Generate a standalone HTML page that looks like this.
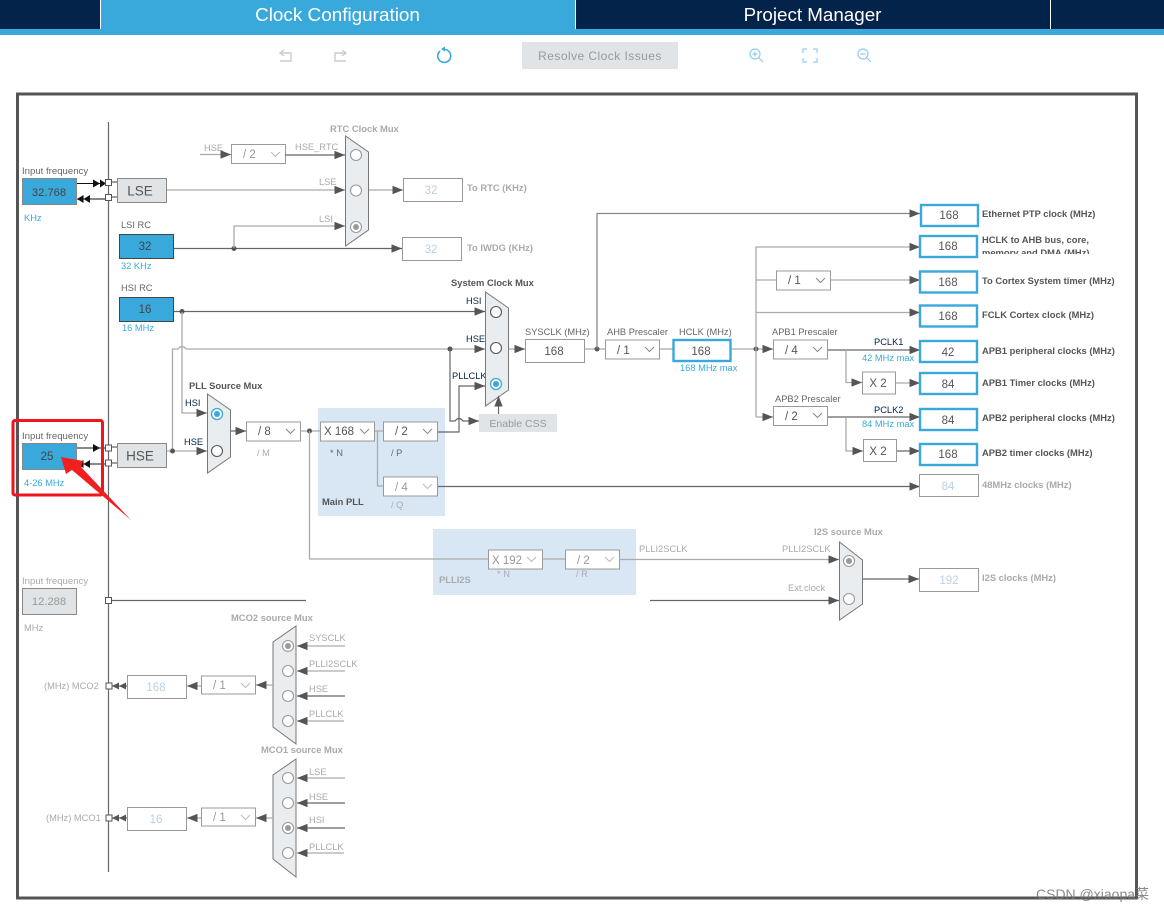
<!DOCTYPE html>
<html><head><meta charset="utf-8"><style>
html,body{margin:0;padding:0;background:#fff;width:1164px;height:912px;overflow:hidden}
svg{display:block}
text{font-family:"Liberation Sans","Noto Sans CJK SC",sans-serif;font-size:9.3px;fill:#666}
.b{font-weight:bold;font-size:9.4px}
.u{fill:#39a9dc}
.n{fill:#03234b}
.m{fill:#aaa}
.v{font-size:11.5px;fill:#555}
.vm{font-size:11.5px;fill:#999}
.c{text-anchor:middle}
.bl{font-size:11.5px;fill:#bccfe4;text-anchor:middle}
.d{stroke:#666;stroke-width:1.2;fill:none}
.g{stroke:#aaa;stroke-width:1.3;fill:none}
.box{fill:#fff;stroke:#999;stroke-width:1}
.out{fill:#fff;stroke:#39a9dc;stroke-width:2.4}
.mux{fill:#e9edf0;stroke:#777;stroke-width:1}
.r{fill:#fff;stroke:#999;stroke-width:1.1}
.rb{fill:#fff;stroke:#39a9dc;stroke-width:1.3}
.chev{fill:none;stroke:#888;stroke-width:1}
.chevm{fill:none;stroke:#bbb;stroke-width:1}
.sq{fill:#fff;stroke:#555;stroke-width:1}
.in{fill:#39a9dc;stroke:#888;stroke-width:1}
.inb{fill:#39a9dc;stroke:#444;stroke-width:1}
.gr{fill:#e1e4e6;stroke:#888;stroke-width:1}
</style></head><body>
<svg width="1164" height="912" viewBox="0 0 1164 912" xmlns="http://www.w3.org/2000/svg">
<defs>
<marker id="a" viewBox="0 0 10 8" refX="10" refY="4" markerWidth="10.5" markerHeight="8.400" markerUnits="userSpaceOnUse" orient="auto"><polygon points="0,0 10,4 0,8" fill="#555"/></marker>
</defs>

<!-- top bar -->
<rect x="0" y="0" width="1164" height="29" fill="#03234b"/>
<rect x="100" y="0" width="475" height="29" fill="#39a9dc"/>
<rect x="0" y="29" width="1164" height="6" fill="#39a9dc"/>
<rect x="100" y="0" width="1" height="29" fill="#fff"/>
<rect x="575" y="0" width="1" height="29" fill="#fff"/>
<rect x="1050" y="0" width="1" height="29" fill="#fff"/>
<text x="337.5" y="21" class="c" style="font-size:18.9px;fill:#fff">Clock Configuration</text>
<text x="812.5" y="21" class="c" style="font-size:18.8px;fill:#fff">Project Manager</text>

<!-- toolbar -->
<g fill="none" stroke="#ccc" stroke-width="1.4">
<path d="M280 53h11v8h-11M284 50l-4 3 4 3"/>
<path d="M346 53h-11v8h11M342 50l4 3-4 3"/>
</g>
<path d="M440 51a6.500 6.500 0 1 0 5 -1.500" fill="none" stroke="#39a9dc" stroke-width="1.6"/>
<path d="M445 46.500v5l-4 -2.500z" fill="#39a9dc"/>
<rect x="522" y="42" width="156" height="27" fill="#e1e4e6"/>
<text x="600" y="60" class="c" style="font-size:12px;fill:#999;letter-spacing:.45px">Resolve Clock Issues</text>
<g fill="none" stroke="#8fcdec" stroke-width="1.2">
<circle cx="755" cy="54" r="5"/><path d="M759 58l4 4M752.500 54h5M755 51.500v5"/>
<path d="M803 53v-4h4M813 49h4v4M817 58v4h-4M807 62h-4v-4"/>
<circle cx="863" cy="54" r="5"/><path d="M867 58l4 4M860.500 54h5"/>
</g>

<!-- frame -->
<rect x="17.500" y="94" width="1119" height="804" fill="#fff" stroke="#555" stroke-width="3"/>

<!-- blue bgs -->
<rect x="318" y="408" width="127" height="108" fill="#d9e7f4"/>
<rect x="433" y="529" width="203" height="66" fill="#d9e7f4"/>

<!-- left bus -->
<path class="d" d="M108.500 122V872"/>

<!-- LSE -->
<text x="22" y="174" style="font-size:9.6px">Input frequency</text>
<rect class="in" x="22.500" y="178.500" width="54" height="26"/>
<text x="49" y="196" class="c" style="font-size:11.2px;fill:#444">32.768</text>
<text x="24" y="221" class="u">KHz</text>
<path d="M77 183.500H105" stroke="#111" stroke-width="1"/>
<path d="M77 199H105" stroke="#111" stroke-width="1"/>
<polygon points="93,179.500 100,183.500 93,187.500" fill="#111"/><polygon points="100,179.500 106,183.500 100,187.500" fill="#111"/>
<polygon points="77,199 83.500,195 83.500,203" fill="#111"/><polygon points="83.500,199 90,195 90,203" fill="#111"/>
<path class="d" d="M111 182H117M111 197H117"/>
<rect class="sq" x="105.500" y="179.500" width="6" height="6"/>
<rect class="sq" x="105.500" y="194.500" width="6" height="6"/>
<rect class="gr" x="117.500" y="178.500" width="49" height="24"/>
<text x="140" y="195.500" class="c" style="font-size:13.5px;fill:#555">LSE</text>

<path class="g" d="M167 190H345" marker-end="url(#a)"/>
<text x="319" y="185" class="m">LSE</text>
<text x="204" y="151" class="m">HSE</text>
<path class="g" d="M200 154.500H231" marker-end="url(#a)"/>
<rect class="box" x="231.500" y="144.500" width="54" height="19"/>
<text x="243" y="158" class="vm">/ 2</text>
<path class="chevm" d="M271 152l4.500 4.500 4.500-4.500"/>
<path class="d" d="M285 155H345" marker-end="url(#a)"/>
<text x="295" y="150" class="m">HSE_RTC</text>
<text x="330" y="132" class="b m">RTC Clock Mux</text>
<polygon class="mux" points="345.500,136 368.500,152 368.500,230 345.500,246"/>
<circle class="r" cx="356" cy="155" r="5.500"/>
<circle class="r" cx="356" cy="190.500" r="5.500"/>
<circle class="r" cx="356" cy="227" r="5.500"/><circle cx="356" cy="227" r="3" fill="#999"/>
<path class="g" d="M369 190H403" marker-end="url(#a)"/>
<rect class="box" x="403.500" y="178.500" width="59" height="23"/>
<text x="431" y="194" class="bl">32</text>
<text x="467" y="191" class="b m">To RTC (KHz)</text>

<!-- LSI -->
<text x="121" y="228">LSI RC</text>
<rect class="inb" x="119.500" y="234.500" width="54" height="24"/>
<text x="145" y="250" class="c" style="font-size:11.5px;fill:#444">32</text>
<text x="121" y="269" class="u">32 KHz</text>
<path class="d" d="M174 248.500H402" marker-end="url(#a)"/>
<circle cx="234" cy="248.500" r="2.500" fill="#555"/>
<path class="g" d="M234 248V226H345" marker-end="url(#a)"/>
<text x="319" y="222" class="m">LSI</text>
<rect class="box" x="402.500" y="237.500" width="59" height="23"/>
<text x="431" y="253" class="bl">32</text>
<text x="467" y="251" class="b m">To IWDG (KHz)</text>

<!-- HSI -->
<text x="121" y="291">HSI RC</text>
<rect class="inb" x="119.500" y="297.500" width="54" height="24"/>
<text x="145" y="313" class="c" style="font-size:11.5px;fill:#444">16</text>
<text x="122" y="331" class="u">16 MHz</text>
<path class="d" d="M174 311.500H485" marker-end="url(#a)"/>
<circle cx="182" cy="311.500" r="2.500" fill="#555"/>
<path class="g" d="M182 312V413H207" marker-end="url(#a)"/>
<path class="g" d="M172.500 451V349H178q4-5 8 0H485" marker-end="url(#a)"/>

<!-- HSE -->
<text x="22" y="439" style="font-size:9.6px">Input frequency</text>
<rect class="in" x="22.500" y="443.500" width="54" height="26"/>
<text x="47" y="460" class="c" style="font-size:11.5px;fill:#444">25</text>
<text x="24" y="486" class="u">4-26 MHz</text>
<path d="M77 448H105M77 464H105" stroke="#111" stroke-width="1"/>
<polygon points="93,444 100,448 93,452" fill="#111"/>
<polygon points="77,464 83.500,460 83.500,468" fill="#111"/><polygon points="83.500,464 90,460 90,468" fill="#111"/>
<path class="d" d="M111 447H117M111 463H117"/>
<rect class="sq" x="105.500" y="445" width="6" height="6"/>
<rect class="sq" x="105.500" y="460" width="6" height="6"/>
<rect class="gr" x="117.500" y="443.500" width="49" height="24"/>
<text x="140" y="460.500" class="c" style="font-size:13.5px;fill:#555">HSE</text>
<path class="g" d="M167 451H207" marker-end="url(#a)"/>
<circle cx="172.500" cy="451" r="2.500" fill="#555"/>

<!-- PLL mux -->
<text x="189" y="389" class="b" style="fill:#555">PLL  Source Mux</text>
<text x="185" y="406" class="n">HSI</text>
<text x="184" y="445" class="n">HSE</text>
<polygon class="mux" points="207.500,394 230.500,410 230.500,457 207.500,473"/>
<circle class="rb" cx="217" cy="414" r="5.500"/><circle cx="217" cy="414" r="3" fill="#39a9dc"/>
<circle class="r" cx="217" cy="451" r="5.500" style="stroke:#555"/>
<path class="d" d="M231 431H246" marker-end="url(#a)"/>
<rect class="box" x="246.500" y="422" width="54" height="19"/>
<text x="258" y="435" class="v">/ 8</text>
<path class="chev" d="M286 429l4.500 4.500 4.500-4.500"/>
<text x="257" y="456" class="m">/ M</text>
<path class="g" d="M300 431H320"/>
<circle cx="309.500" cy="431" r="2.500" fill="#555"/>
<path class="g" d="M309.500 431V559H488"/>

<!-- main PLL -->
<rect class="box" x="320.500" y="422" width="54" height="19"/>
<text x="324" y="435" class="v">X 168</text>
<path class="chev" d="M360 429l4.500 4.500 4.500-4.500"/>
<path class="g" d="M375 431H383M377.500 431V486H383"/>
<rect class="box" x="383.500" y="422" width="54" height="19"/>
<text x="395" y="435" class="v">/ 2</text>
<path class="chev" d="M423 429l4.500 4.500 4.500-4.500"/>
<rect class="box" x="383.500" y="477" width="54" height="19"/>
<text x="395" y="491" class="vm">/ 4</text>
<path class="chevm" d="M423 484l4.500 4.500 4.500-4.500"/>
<text x="330" y="456" style="fill:#666">* N</text>
<text x="391" y="456" style="fill:#666">/ P</text>
<text x="391" y="508" class="m">/ Q</text>
<text x="322" y="505" class="b" style="fill:#555">Main PLL</text>
<path class="d" d="M438 486.500H920" marker-end="url(#a)"/>

<!-- system mux -->
<path class="d" d="M438 432H459V386H485" marker-end="url(#a)"/>
<circle cx="450" cy="349" r="2.500" fill="#555"/>
<path class="d" d="M450 349V421H455q4-5 8 0H479" marker-end="url(#a)"/>
<text x="451" y="286" class="b" style="fill:#555">System Clock Mux</text>
<text x="466" y="304" class="n">HSI</text>
<text x="466" y="342" class="n">HSE</text>
<text x="452" y="379" class="n">PLLCLK</text>
<polygon class="mux" points="485.500,292 508.500,308 508.500,390 485.500,406"/>
<circle class="r" cx="496" cy="312" r="5.500" style="stroke:#555"/>
<circle class="r" cx="496" cy="348" r="5.500" style="stroke:#555"/>
<circle class="rb" cx="496" cy="384" r="5.500"/><circle cx="496" cy="384" r="3" fill="#39a9dc"/>
<path class="d" d="M498.500 414V396" marker-end="url(#a)"/>
<rect x="479" y="414" width="78" height="18" fill="#e1e4e6"/>
<text x="518" y="427" class="c" style="font-size:10.5px;fill:#999">Enable CSS</text>

<path class="g" d="M509 349H525" marker-end="url(#a)"/>
<text x="525" y="335">SYSCLK (MHz)</text>
<rect class="box" x="525.500" y="339.500" width="59" height="23"/>
<text x="554" y="355" class="c v">168</text>
<path class="g" d="M585 349H605"/>
<circle cx="597" cy="349" r="2.500" fill="#555"/>
<path class="g" d="M597 349V213.500H920" style="stroke:#888" marker-end="url(#a)"/>
<text x="607" y="335">AHB Prescaler</text>
<rect class="box" x="605.500" y="340" width="54" height="19"/>
<text x="617" y="354" class="v">/ 1</text>
<path class="chev" d="M645 347l4.500 4.500 4.500-4.500"/>
<path class="g" d="M660 349H673"/>
<text x="679" y="335">HCLK (MHz)</text>
<rect class="out" x="673.500" y="340" width="57" height="21"/>
<text x="701" y="355" class="c v">168</text>
<text x="680" y="371" class="u">168 MHz max</text>
<path class="g" d="M731 349H773" marker-end="url(#a)"/>
<circle cx="756" cy="349" r="2.500" fill="#555"/>
<path class="g" d="M756 417V247H920" marker-end="url(#a)"/>
<path class="g" d="M756 280H776.500"/>
<rect class="box" x="776.500" y="271" width="54" height="19"/>
<text x="788" y="284" class="v">/ 1</text>
<path class="chev" d="M816 278l4.500 4.500 4.500-4.500"/>
<path class="g" d="M831 280H920" marker-end="url(#a)"/>
<path class="g" d="M756 312.500H920" marker-end="url(#a)"/>
<path class="g" d="M756 417H773" marker-end="url(#a)"/>

<text x="772" y="335">APB1 Prescaler</text>
<rect class="box" x="773.500" y="340" width="54" height="19"/>
<text x="785" y="354" class="v">/ 4</text>
<path class="chev" d="M813 347l4.500 4.500 4.500-4.500"/>
<text x="775" y="402">APB2 Prescaler</text>
<rect class="box" x="773.500" y="406.500" width="54" height="19"/>
<text x="785" y="420" class="v">/ 2</text>
<path class="chev" d="M813 413l4.500 4.500 4.500-4.500"/>

<path class="d" d="M828 350H920" marker-end="url(#a)"/>
<text x="874" y="345" class="n">PCLK1</text>
<text x="862" y="361" class="u">42 MHz max</text>
<path class="g" d="M846 350V382.500H862" marker-end="url(#a)"/>
<rect class="box" x="862.500" y="372" width="33" height="22"/>
<text x="878" y="387" class="c v">X 2</text>
<path class="g" d="M896 383H920" marker-end="url(#a)"/>

<path class="d" d="M828 417H920" marker-end="url(#a)"/>
<text x="874" y="413" class="n">PCLK2</text>
<text x="862" y="427" class="u">84 MHz max</text>
<path class="g" d="M846 417V451H863" marker-end="url(#a)"/>
<rect class="box" x="863.500" y="439.500" width="33" height="22"/>
<text x="878" y="455" class="c v">X 2</text>
<path class="d" d="M897 451H920" marker-end="url(#a)"/>

<!-- outputs -->
<rect class="out" x="921" y="205" width="57" height="21"/><text x="949" y="219" class="c v">168</text>
<rect class="out" x="920" y="236" width="57" height="21"/><text x="948" y="250" class="c v">168</text>
<rect class="out" x="920" y="271.500" width="57" height="21"/><text x="948" y="286" class="c v">168</text>
<rect class="out" x="920" y="305.500" width="57" height="21"/><text x="948" y="320" class="c v">168</text>
<rect class="out" x="920" y="341" width="57" height="21"/><text x="948" y="356" class="c v">42</text>
<rect class="out" x="920" y="373" width="57" height="21"/><text x="948" y="388" class="c v">84</text>
<rect class="out" x="920" y="409" width="57" height="21"/><text x="948" y="424" class="c v">84</text>
<rect class="out" x="920" y="444" width="57" height="21"/><text x="948" y="458" class="c v">168</text>
<rect class="box" x="919.500" y="474.500" width="59" height="22"/><text x="948" y="490" class="bl">84</text>

<text x="982" y="217" class="b" style="fill:#555">Ethernet PTP clock (MHz)</text>
<text x="982" y="243" class="b" style="fill:#555">HCLK to AHB bus, core,</text>
<clipPath id="cl"><rect x="975" y="246" width="150" height="8"/></clipPath>
<text x="982" y="256" class="b" style="fill:#555" clip-path="url(#cl)">memory and DMA (MHz)</text>
<text x="982" y="284" class="b" style="fill:#555">To Cortex System timer (MHz)</text>
<text x="982" y="318" class="b" style="fill:#555">FCLK Cortex clock (MHz)</text>
<text x="982" y="354" class="b" style="fill:#555">APB1 peripheral clocks (MHz)</text>
<text x="982" y="386" class="b" style="fill:#555">APB1 Timer clocks (MHz)</text>
<text x="982" y="421" class="b" style="fill:#555">APB2 peripheral clocks (MHz)</text>
<text x="982" y="456" class="b" style="fill:#555">APB2 timer clocks (MHz)</text>
<text x="982" y="488" class="b m">48MHz clocks (MHz)</text>

<!-- I2S -->
<rect class="box" x="488.500" y="550" width="54" height="19"/>
<text x="492" y="564" class="vm">X 192</text>
<path class="chevm" d="M527 557l4.500 4.500 4.500-4.500"/>
<path class="g" d="M542 559H565"/>
<rect class="box" x="565.500" y="550" width="54" height="19"/>
<text x="577" y="564" class="vm">/ 2</text>
<path class="chevm" d="M605 557l4.500 4.500 4.500-4.500"/>
<text x="497" y="577" class="m">* N</text>
<text x="576" y="577" class="m">/ R</text>
<text x="439" y="583" class="b m">PLLI2S</text>
<path class="g" d="M619 559.500H839" marker-end="url(#a)"/>
<text x="639" y="552" class="m">PLLI2SCLK</text>
<text x="782" y="552" class="m">PLLI2SCLK</text>
<text x="788" y="591" class="m">Ext.clock</text>
<path class="d" d="M650 600.500H839" marker-end="url(#a)"/>
<text x="814" y="535" class="b m">I2S source Mux</text>
<polygon class="mux" points="839.500,542 862.500,560 862.500,604 839.500,620"/>
<circle class="r" cx="849" cy="561" r="5.500"/><circle cx="849" cy="561" r="3" fill="#999"/>
<circle class="r" cx="849" cy="599" r="5.500"/>
<path class="d" d="M863 579H919" marker-end="url(#a)"/>
<rect class="box" x="919.500" y="568.500" width="59" height="23"/>
<text x="949" y="584" class="bl">192</text>
<text x="982" y="581" class="b m">I2S clocks (MHz)</text>

<!-- third input -->
<text x="22" y="584" class="m" style="font-size:9.6px">Input frequency</text>
<rect class="gr" x="22.500" y="588.500" width="54" height="26"/>
<text x="49" y="605" class="c" style="font-size:11.2px;fill:#999">12.288</text>
<text x="24" y="631" class="m">MHz</text>
<path class="d" d="M111 600.500H306"/>
<rect class="sq" x="105.500" y="597.500" width="6" height="6"/>

<!-- MCO2 -->
<text x="231" y="621" class="b m">MCO2 source Mux</text>
<polygon class="mux" points="296,626 273,642 273,727 296,744"/>
<circle class="r" cx="288" cy="646" r="5.500"/><circle cx="288" cy="646" r="3" fill="#999"/>
<circle class="r" cx="288" cy="671" r="5.500"/>
<circle class="r" cx="288" cy="696" r="5.500"/>
<circle class="r" cx="288" cy="721" r="5.500"/>
<path class="g" d="M345 646H297" marker-end="url(#a)"/>
<path class="g" d="M345 671H297" marker-end="url(#a)"/>
<path class="d" d="M345 696H297" marker-end="url(#a)"/>
<path class="g" d="M344 721H297" marker-end="url(#a)"/>
<text x="309" y="641" class="m">SYSCLK</text>
<text x="309" y="667" class="m">PLLI2SCLK</text>
<text x="309" y="692" class="m">HSE</text>
<text x="309" y="717" class="m">PLLCLK</text>
<path class="g" d="M273 685H256" marker-end="url(#a)"/>
<rect class="box" x="201.500" y="676" width="54" height="18"/>
<text x="213" y="689" class="vm">/ 1</text>
<path class="chevm" d="M241 683l4.500 4.500 4.500-4.500"/>
<path class="g" d="M201 686H187" marker-end="url(#a)"/>
<rect class="box" x="127.500" y="675.500" width="59" height="23"/>
<text x="156" y="691" class="bl">168</text>
<path class="d" d="M127 686H112"/>
<polygon points="112,686 119,682.500 119,689.500" fill="#555"/><polygon points="119,686 126,682.500 126,689.500" fill="#555"/>
<rect class="sq" x="106" y="683" width="6" height="6"/>
<text x="44" y="689" class="m">(MHz) MCO2</text>

<!-- MCO1 -->
<text x="261" y="753" class="b m">MCO1 source Mux</text>
<polygon class="mux" points="296,759 273,775 273,859 296,877"/>
<circle class="r" cx="288" cy="778" r="5.500"/>
<circle class="r" cx="288" cy="803" r="5.500"/>
<circle class="r" cx="288" cy="828" r="5.500"/><circle cx="288" cy="828" r="3" fill="#999"/>
<circle class="r" cx="288" cy="853" r="5.500"/>
<path class="g" d="M345 778H297" marker-end="url(#a)"/>
<path class="d" d="M345 803H297" marker-end="url(#a)"/>
<path class="d" d="M345 828H297" marker-end="url(#a)"/>
<path class="g" d="M344 853H297" marker-end="url(#a)"/>
<text x="309" y="775" class="m">LSE</text>
<text x="309" y="800" class="m">HSE</text>
<text x="309" y="823" class="m">HSI</text>
<text x="309" y="850" class="m">PLLCLK</text>
<path class="g" d="M273 818H256" marker-end="url(#a)"/>
<rect class="box" x="201.500" y="808" width="54" height="18"/>
<text x="213" y="821" class="vm">/ 1</text>
<path class="chevm" d="M241 815l4.500 4.500 4.500-4.500"/>
<path class="g" d="M201 818H187" marker-end="url(#a)"/>
<rect class="box" x="127.500" y="807.500" width="59" height="23"/>
<text x="156" y="823" class="bl">16</text>
<path class="d" d="M127 818H112"/>
<polygon points="112,818 119,814.500 119,821.500" fill="#555"/><polygon points="119,818 126,814.500 126,821.500" fill="#555"/>
<rect class="sq" x="106" y="815" width="6" height="6"/>
<text x="46" y="821" class="m">(MHz) MCO1</text>

<!-- red annotation -->
<rect x="13" y="420.500" width="89.500" height="74.500" rx="2" fill="none" stroke="#f0141e" stroke-width="3"/>
<polygon points="61,457 83,461 81,467 131,520 72,470 66,474" fill="#f0201e"/>

<!-- watermark -->
<text x="1036" y="899" style="font-size:14px;fill:#777;opacity:.85">CSDN @xiaopa菜</text>
</svg>
</body></html>
